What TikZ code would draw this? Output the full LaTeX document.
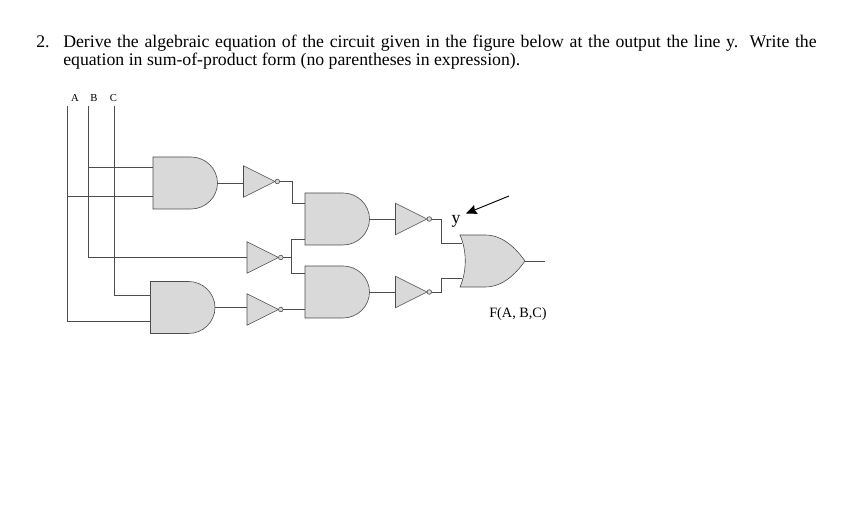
\documentclass[tikz,border=0pt]{standalone}
\usepackage{fontspec}
\setmainfont{Liberation Serif}
\usepackage{tikz}
\usetikzlibrary{arrows.meta}
\tikzset{
	gate/.style={draw=black!70, fill=black!15, line width=.45pt},
	wire/.style={draw=black!70, line width=.45pt},
	inlabel/.style={inner sep=0pt, anchor=base, font=\fontsize{8}{9}\selectfont},
	textline/.style={inner sep=0pt, anchor=north west, font=\fontsize{13.3}{13.5}\selectfont},
	pics/andgate/.style 2 args={code={
		\draw[gate] (0,-26) -- (38,-26) .. controls (52.4,-26) and (64.5,-14.4) .. (64.5,0) .. controls (64.5,14.4) and (52.4,26) .. (38,26) -- (0,26) -- cycle;
		\coordinate (-in1) at (0,#1);
		\coordinate (-in2) at (0,#2);
		\coordinate (-out) at (64.5,0);
	}},
	pics/orgate/.style={code={
		\draw[gate] (0,-26) -- (25,-26) .. controls (42,-26) and (55,-14) .. (65,0) .. controls (55,14) and (42,26) .. (25,26) -- (0,26) .. controls (7,10) and (7,-10) .. (0,-26) -- cycle;
		\coordinate (-in1) at (2,-18);
		\coordinate (-in2) at (2,17.5);
		\coordinate (-out) at (65,0);
	}},
	pics/notgate/.style={code={
		\draw[gate] (0,-15.75) -- (31.5,0) -- (0,15.75) -- cycle;
		\draw[gate] (33.8,0) circle (2.3);
		\coordinate (-in) at (0,0);
		\coordinate (-out) at (36.1,0);
	}},
}
\begin{document}
\begin{tikzpicture}[x=0.75pt, y=-0.75pt]
		\useasboundingbox (0,0) rectangle (851,530);
		% question text
		\node[textline] (num) at (36,35) {2.};
		\node[textline, text width=565pt, align=justify] (question) at (63,35) {Derive the algebraic equation of the circuit given in the figure below at the output the line y.\ \ Write the equation in sum-of-product form (no parentheses in expression).};
		% inputs
		\node[inlabel] (lblA) at (75,102) {A};
		\node[inlabel] (lblB) at (94,102) {B};
		\node[inlabel] (lblC) at (113.5,102) {C};
		\coordinate (topA) at (67,106);
		\coordinate (topB) at (88.5,106);
		\coordinate (topC) at (114,106);
		% gates
		\pic (and1) at (153,183) {andgate={-16}{13.5}};
		\pic (and2) at (150.5,307.5) {andgate={-12.5}{13.5}};
		\pic (and3) at (305,219) {andgate={-16}{20}};
		\pic (and4) at (305,292) {andgate={-19}{16.5}};
		\pic (not1) at (243.5,181.5) {notgate};
		\pic (not2) at (247,257.5) {notgate};
		\pic (not3) at (247,309.5) {notgate};
		\pic (not4) at (395.5,219) {notgate};
		\pic (not5) at (395.5,292) {notgate};
		\pic (or1) at (460,261) {orgate};
		% input wires
		\draw[wire] (topA) |- (and2-in2);
		\draw[wire] (topB) |- (not2-in);
		\draw[wire] (topC) |- (and2-in1);
		\draw[wire] (topB |- and1-in1) -- (and1-in1);
		\draw[wire] (topA |- and1-in2) -- (and1-in2);
		% gate outputs
		\draw[wire] (and1-out) -- (and1-out -| not1-in);
		\draw[wire] (and2-out) -- (and2-out -| not3-in);
		\draw[wire] (and3-out) -- (not4-in);
		\draw[wire] (and4-out) -- (and4-out -| not5-in);
		\coordinate (bend1) at (292,203);
		\coordinate (bend2) at (291,239);
		\coordinate (bend3) at (291,273);
		\coordinate (bend4) at (441,243);
		\coordinate (bend5) at (441,278.5);
		\draw[wire] (not1-out) -| (bend1) -- (and3-in1);
		\draw[wire] (not2-out) -| (bend2) -- (and3-in2);
		\draw[wire] (not2-out) -| (bend3) -- (and4-in1);
		\draw[wire] (not3-out) -- (not3-out -| and4-in2);
		\draw[wire] (not4-out) -| (bend4) -- (or1-in1);
		\draw[wire] (not5-out) -| (bend5) -- (or1-in2);
		\coordinate (endF) at (545,261);
		\draw[wire] (or1-out) -- (endF);
		% output labels
		\node[inner sep=0pt, font=\fontsize{13.3}{14}\selectfont] (lbly) at (456,221) {y};
		\coordinate (tail) at (509,196);
		\coordinate (head) at (466,213.5);
		\draw[-{Stealth[length=8pt,width=7pt,inset=1pt]}, line width=.7pt] (tail) -- (head);
		\node[inner sep=0pt, font=\fontsize{10.7}{11}\selectfont] (lblF) at (518,314.5) {F(A, B,C)};
\end{tikzpicture}
\end{document}
